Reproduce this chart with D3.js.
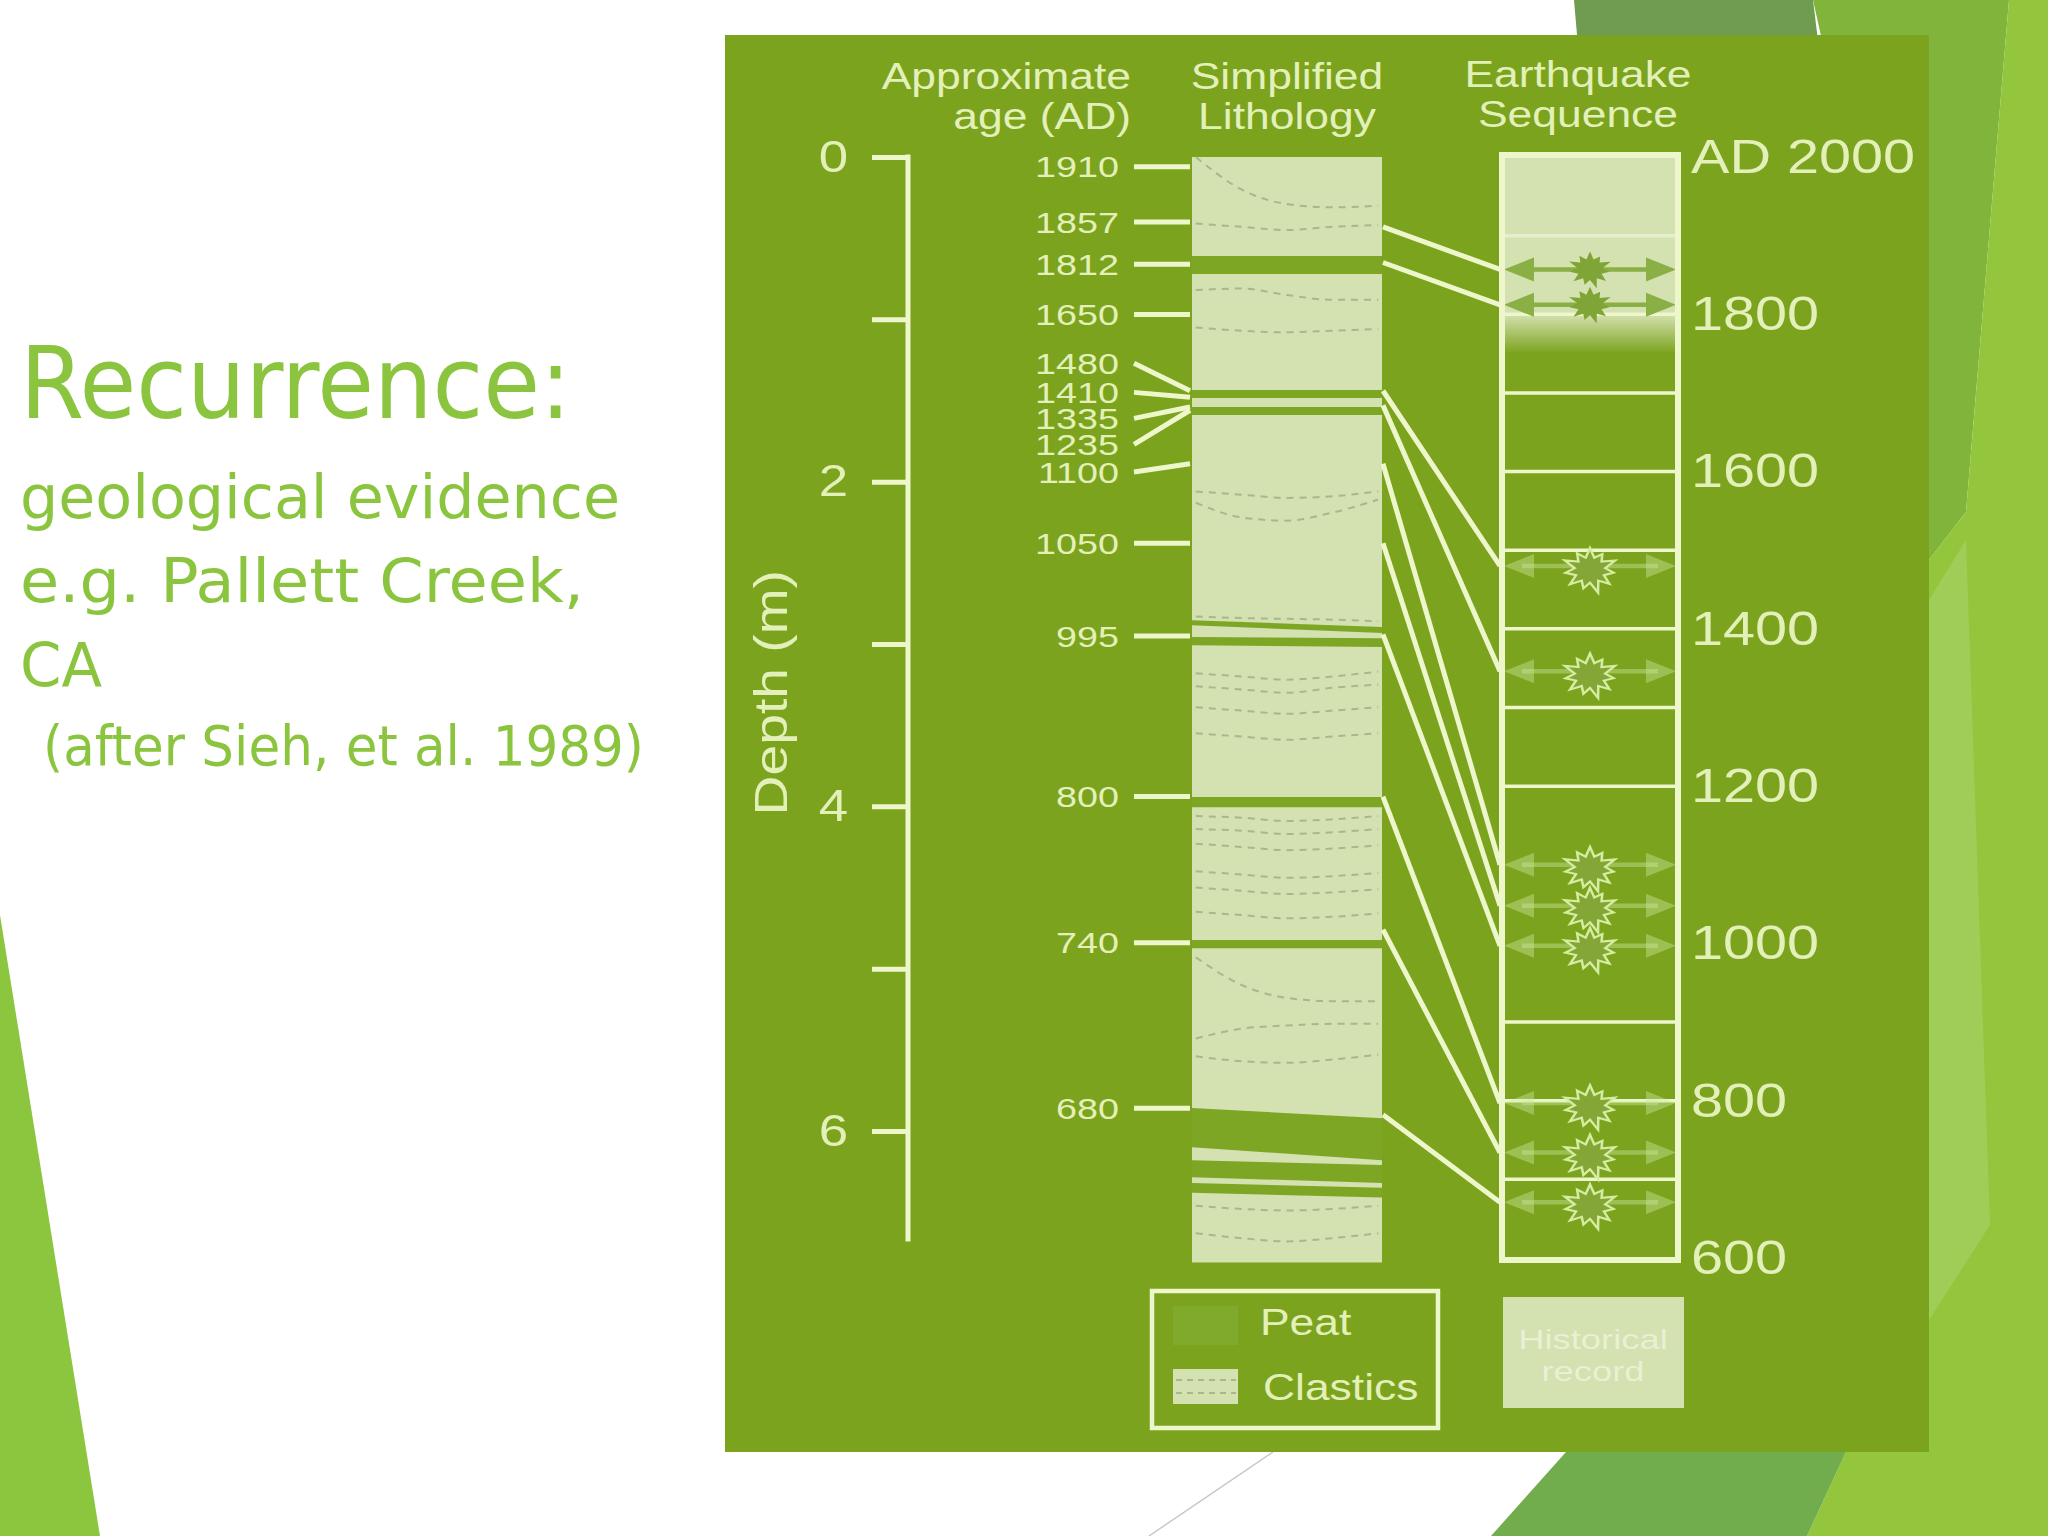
<!DOCTYPE html>
<html>
<head>
<meta charset="utf-8">
<script src="https://cdn.jsdelivr.net/npm/d3@7"></script>
<style>
  body { margin: 0; background: #fff; }
  svg { display: block; }
</style>
</head>
<body>
<svg id="slide" width="2048" height="1536"></svg>
<script>
// ---- data (Pallett Creek, after Sieh et al. 1989) ----
var depthTicks = [0, 1, 2, 3, 4, 5, 6];                 // m
var yearTicks = [2000, 1800, 1600, 1400, 1200, 1000, 800, 600];
var gridYears = [1900, 1800, 1700, 1600, 1500, 1400, 1300, 1200, 900, 800, 700];

// approximate age labels, where the label sits and which horizon it points to (depth, m)
var ageLabels    = [1910, 1857, 1812, 1650, 1480, 1410, 1335, 1235, 1100, 1050, 995, 800, 740, 680];
var labelDepth   = [0.06, 0.40, 0.66, 0.97, 1.27, 1.45, 1.61, 1.77, 1.94, 2.38, 2.95, 3.94, 4.84, 5.86];
var horizonDepth = [0.06, 0.40, 0.66, 0.97, 1.44, 1.48, 1.54, 1.56, 1.89, 2.38, 2.95, 3.94, 4.84, 5.86];

// peat layers: [left, right] depth of top and bottom
var peatTop    = [[0.61, 0.61], [1.436, 1.436], [1.54, 1.54], [2.853, 2.896], [2.957, 2.964],
                  [3.943, 3.943], [4.824, 4.824], [5.859, 5.921], [6.18, 6.21], [6.32, 6.35]];
var peatBottom = [[0.72, 0.72], [1.485, 1.485], [1.59, 1.59], [2.884, 2.933], [3.007, 3.019],
                  [4.005, 4.005], [4.874, 4.874], [6.10, 6.18], [6.285, 6.32], [6.38, 6.41]];
var columnBottom = 6.81;
var axisBottom = 6.68;

// dashed bedding in the clastics, depth at five points across the column
var bedding = [
  [0.00, 0.20, 0.29, 0.31, 0.30],
  [0.41, 0.43, 0.45, 0.43, 0.42],
  [0.82, 0.81, 0.85, 0.88, 0.88],
  [1.05, 1.07, 1.08, 1.07, 1.06],
  [2.06, 2.08, 2.10, 2.09, 2.06],
  [2.13, 2.22, 2.24, 2.19, 2.11],
  [2.83, 2.84, 2.845, 2.85, 2.86],
  [3.18, 3.20, 3.22, 3.20, 3.17],
  [3.26, 3.28, 3.30, 3.27, 3.25],
  [3.39, 3.41, 3.43, 3.41, 3.39],
  [3.55, 3.57, 3.59, 3.57, 3.55],
  [4.06, 4.07, 4.09, 4.08, 4.06],
  [4.14, 4.15, 4.17, 4.16, 4.14],
  [4.23, 4.25, 4.27, 4.26, 4.24],
  [4.40, 4.42, 4.44, 4.43, 4.41],
  [4.50, 4.52, 4.54, 4.53, 4.51],
  [4.65, 4.67, 4.69, 4.68, 4.66],
  [4.93, 5.10, 5.18, 5.20, 5.20],
  [5.43, 5.37, 5.35, 5.34, 5.34],
  [5.54, 5.57, 5.58, 5.56, 5.53],
  [6.46, 6.48, 6.49, 6.48, 6.46],
  [6.63, 6.66, 6.68, 6.66, 6.63]
];

// earthquakes and the horizon each one is correlated with
var eventYears   = [1857, 1812, 1480, 1346, 1100, 1048, 997, 797, 734, 671];
var eventHorizon = [0.43, 0.65, 1.44, 1.53, 1.89, 2.38, 2.94, 3.94, 4.76, 5.90];
var historicalFrom = 1800;

var headers = [["Approximate", "age (AD)"], ["Simplified", "Lithology"], ["Earthquake", "Sequence"]];
var slideLines = ["Recurrence:", "geological evidence", "e.g. Pallett Creek,", "CA", " (after Sieh, et al. 1989)"];

// ---- styles ----
var PANEL = "#7ba31d", PEAT = "#7ea625", PALE = "#d4e1b0", LINE = "#eef7cc", INK = "#e3f0b9";
var FONT = "'Liberation Sans', Arial, Helvetica, sans-serif";
var SLIDE_FONT = "'Trebuchet MS', 'DejaVu Sans Condensed', 'Liberation Sans Narrow', 'Noto Sans', sans-serif";

var svg = d3.select("#slide");

// scales
var depthY = d3.scaleLinear().domain([0, 6]).range([157, 1131]);
var yearY = d3.scaleLinear().domain([2000, 600]).range([157, 1258]);
var litX = d3.scaleLinear().domain([0, 1]).range([1192, 1382]);
var eqX = d3.scaleLinear().domain([0, 1]).range([1502, 1678]);

// stretch text horizontally (the figure on the slide is widened)
function stretch(sel, k) {
  sel.each(function () {
    var kk = +this.getAttribute("data-k") || k;
    var w = this.getComputedTextLength();
    this.setAttribute("textLength", w * kk);
    this.setAttribute("lengthAdjust", "spacingAndGlyphs");
  });
}

// ---- slide theme shapes ----
var deco = [
  { p: [[1574, 0], [1813, 0], [1850, 300], [1600, 300]], c: "#6f9c50" },
  { p: [[1813, 0], [2009, 0], [1966, 512], [1929, 560], [1880, 300]], c: "#80b43a" },
  { p: [[2009, 0], [2048, 0], [2048, 1536], [1807, 1536], [1846, 1452], [1929, 1452], [1929, 560], [1966, 512]], c: "#93c53d" },
  { p: [[1929, 600], [1966, 540], [1990, 1225], [1929, 1320]], c: "#a0cd58" },
  { p: [[1491, 1536], [1566, 1452], [1846, 1452], [1807, 1536]], c: "#72ad4d" },
  { p: [[0, 915], [0, 1536], [100, 1536]], c: "#8cc63f" }
];
svg.selectAll("polygon.deco").data(deco).join("polygon")
  .attr("class", "deco")
  .attr("points", function (d) { return d.p.join(" "); })
  .attr("fill", function (d) { return d.c; });
svg.append("line").attr("x1", 1149).attr("y1", 1536).attr("x2", 1273).attr("y2", 1452)
  .attr("stroke", "#c9c9c9").attr("stroke-width", 1.5);

// ---- slide text ----
var slideStyle = [
  { x: 20, y: 418, size: 100, w: 551 },
  { x: 20, y: 518, size: 60, w: 600 },
  { x: 20, y: 602, size: 60, w: 564 },
  { x: 20, y: 686, size: 60, w: 82 },
  { x: 43, y: 765, size: 55, w: 601 }
];
svg.selectAll("text.slide").data(slideLines).join("text")
  .attr("class", "slide")
  .attr("x", function (d, i) { return slideStyle[i].x; })
  .attr("y", function (d, i) { return slideStyle[i].y; })
  .attr("font-size", function (d, i) { return slideStyle[i].size; })
  .attr("textLength", function (d, i) { return slideStyle[i].w; })
  .attr("lengthAdjust", "spacingAndGlyphs")
  .attr("font-family", SLIDE_FONT)
  .attr("fill", "#8bc53f")
  .text(function (d) { return d.trim(); });

// ---- figure panel ----
svg.append("rect").attr("x", 725).attr("y", 35).attr("width", 1204).attr("height", 1417).attr("fill", PANEL);

var fig = svg.append("g").attr("font-family", FONT);

// column headers
var headX = [1131, litX(0.5), 1578];
var headAnchor = ["end", "middle", "middle"];
headers.forEach(function (h, i) {
  fig.selectAll(null).data(h).join("text")
    .attr("class", "st")
    .attr("x", headX[i])
    .attr("y", function (d, j) { return (i === 2 ? 87 : 89) + j * 40; })
    .attr("text-anchor", headAnchor[i])
    .attr("font-size", 37)
    .attr("fill", INK)
    .text(function (d) { return d; });
});

// depth axis
var depthAxis = d3.axisLeft(depthY).tickValues(depthTicks).tickSize(36).tickPadding(24)
  .tickFormat(function (d) { return d % 2 === 0 ? d : ""; });
var gD = fig.append("g").attr("transform", "translate(908,0)").call(depthAxis);
gD.select(".domain").remove();
gD.selectAll(".tick line").attr("stroke", LINE).attr("stroke-width", 5);
gD.selectAll(".tick text").attr("class", "st").attr("fill", INK)
  .attr("font-size", 44).attr("font-family", FONT);
gD.append("line").attr("x1", 0).attr("x2", 0)
  .attr("y1", depthY(0) - 2.5).attr("y2", depthY(axisBottom))
  .attr("stroke", LINE).attr("stroke-width", 5);

fig.append("text").attr("class", "st")
  .attr("transform", "translate(771," + depthY(3.3) + ") rotate(-90)")
  .attr("text-anchor", "middle").attr("dy", "0.35em")
  .attr("font-size", 46).attr("fill", INK)
  .text("Depth (m)");

// age labels and their ticks
var ages = ageLabels.map(function (a, i) { return { a: a, ld: labelDepth[i], hd: horizonDepth[i] }; });
fig.selectAll("line.age").data(ages).join("line")
  .attr("class", "age")
  .attr("x1", 1134).attr("y1", function (d) { return depthY(d.ld); })
  .attr("x2", litX(0) - 2).attr("y2", function (d) { return depthY(d.hd); })
  .attr("stroke", LINE).attr("stroke-width", 5);
fig.selectAll("text.age").data(ages).join("text")
  .attr("class", "age st")
  .attr("data-k", 1.3)
  .attr("x", 1119).attr("y", function (d) { return depthY(d.ld); })
  .attr("dy", "0.37em").attr("text-anchor", "end")
  .attr("font-size", 29).attr("fill", INK)
  .text(function (d) { return d.a; });

// lithology column
fig.append("rect").attr("x", litX(0)).attr("y", depthY(0))
  .attr("width", litX(1) - litX(0)).attr("height", depthY(columnBottom) - depthY(0))
  .attr("fill", PALE);

var bedLine = d3.line()
  .x(function (d, i) { return litX(0.02 + i * 0.24); })
  .y(function (d) { return depthY(d); })
  .curve(d3.curveMonotoneX);
fig.selectAll("path.bed").data(bedding).join("path")
  .attr("class", "bed")
  .attr("d", bedLine)
  .attr("fill", "none").attr("stroke", "#a8b78e").attr("stroke-width", 2)
  .attr("stroke-dasharray", "7 6");

fig.selectAll("polygon.peat").data(peatTop).join("polygon")
  .attr("class", "peat")
  .attr("points", function (t, i) {
    var b = peatBottom[i];
    return [[litX(0), depthY(t[0])], [litX(1), depthY(t[1])],
            [litX(1), depthY(b[1])], [litX(0), depthY(b[0])]].join(" ");
  })
  .attr("fill", PEAT);

// earthquake sequence box
var defs = svg.append("defs");
var grad = defs.append("linearGradient").attr("id", "fade").attr("x1", 0).attr("y1", 0).attr("x2", 0).attr("y2", 1);
grad.append("stop").attr("offset", 0).attr("stop-color", PALE).attr("stop-opacity", 1);
grad.append("stop").attr("offset", 1).attr("stop-color", PALE).attr("stop-opacity", 0);

fig.append("rect").attr("x", eqX(0)).attr("y", yearY(2000))
  .attr("width", eqX(1) - eqX(0)).attr("height", yearY(historicalFrom) - yearY(2000))
  .attr("fill", PALE);
fig.append("rect").attr("x", eqX(0)).attr("y", yearY(historicalFrom))
  .attr("width", eqX(1) - eqX(0)).attr("height", yearY(1750) - yearY(historicalFrom))
  .attr("fill", "url(#fade)");

fig.selectAll("line.grid").data(gridYears).join("line")
  .attr("class", "grid")
  .attr("x1", eqX(0)).attr("x2", eqX(1))
  .attr("y1", function (d) { return yearY(d); }).attr("y2", function (d) { return yearY(d); })
  .attr("stroke", function (d) { return d > historicalFrom ? "#e6eed0" : LINE; })
  .attr("stroke-width", 3.5);

// correlation lines
var events = eventYears.map(function (y, i) { return { y: y, h: eventHorizon[i], hist: y >= historicalFrom }; });
fig.selectAll("line.corr").data(events).join("line")
  .attr("class", "corr")
  .attr("x1", litX(1) + 1).attr("y1", function (d) { return depthY(d.h); })
  .attr("x2", eqX(0) - 2).attr("y2", function (d) { return yearY(d.y); })
  .attr("stroke", LINE).attr("stroke-width", 5);

// double arrows
function arrowColor(d) { return d.hist ? "#8aaf45" : "rgba(205,232,160,0.42)"; }
var arrows = fig.selectAll("g.arrow").data(events).join("g").attr("class", "arrow");
arrows.append("line")
  .attr("x1", eqX(0) + 20).attr("x2", eqX(1) - 20)
  .attr("y1", function (d) { return yearY(d.y); }).attr("y2", function (d) { return yearY(d.y); })
  .attr("stroke", arrowColor).attr("stroke-width", 4.5);
arrows.append("polygon")
  .attr("points", function (d) {
    var y = yearY(d.y), x = eqX(0) + 2;
    return [[x, y], [x + 30, y - 12], [x + 30, y + 12]].join(" ");
  })
  .attr("fill", arrowColor);
arrows.append("polygon")
  .attr("points", function (d) {
    var y = yearY(d.y), x = eqX(1) - 2;
    return [[x, y], [x - 30, y - 12], [x - 30, y + 12]].join(" ");
  })
  .attr("fill", arrowColor);

// stars
var jag = [1, 0.86, 1.04, 0.9, 0.97, 1.08, 0.88, 1, 0.94, 1.05, 0.9];
function starPath(r) {
  var pts = [];
  for (var i = 0; i < 22; i++) {
    var a = i * Math.PI / 11;
    pts.push([a, i % 2 === 0 ? r * jag[i / 2] : r * 0.58]);
  }
  return d3.lineRadial().curve(d3.curveLinearClosed)(pts);
}
fig.selectAll("path.star").data(events).join("path")
  .attr("class", "star")
  .attr("transform", function (d) {
    return "translate(" + eqX(0.5) + "," + (yearY(d.y) + (d.hist ? 0 : 4)) + ") scale(1.15,0.95)";
  })
  .attr("d", function (d) { return starPath(d.hist ? 19 : 23); })
  .attr("fill", function (d) { return d.hist ? "#7fa536" : "#84a637"; })
  .attr("stroke", function (d) { return d.hist ? "none" : "#d6eca0"; })
  .attr("stroke-width", 2.2);

// box outline
fig.append("rect").attr("x", eqX(0)).attr("y", 155)
  .attr("width", eqX(1) - eqX(0)).attr("height", 1105)
  .attr("fill", "none").attr("stroke", LINE).attr("stroke-width", 6);

// right year axis
var yearAxis = d3.axisRight(yearY).tickValues(yearTicks).tickSize(0).tickPadding(13)
  .tickFormat(function (d) { return d === 2000 ? "AD 2000" : d; });
var gY = fig.append("g").attr("transform", "translate(" + eqX(1) + ",0)").call(yearAxis);
gY.select(".domain").remove();
gY.selectAll(".tick text").attr("class", "st").attr("fill", INK)
  .attr("font-size", 48).attr("font-family", FONT);

// legend
fig.append("rect").attr("x", 1152).attr("y", 1291).attr("width", 286).attr("height", 137)
  .attr("fill", "none").attr("stroke", LINE).attr("stroke-width", 4.5);
fig.append("rect").attr("x", 1173).attr("y", 1306).attr("width", 65).attr("height", 39).attr("fill", "#80aa2c");
fig.append("rect").attr("x", 1173).attr("y", 1369).attr("width", 65).attr("height", 35).attr("fill", PALE);
[1380, 1393].forEach(function (y) {
  fig.append("line").attr("x1", 1176).attr("x2", 1236).attr("y1", y).attr("y2", y)
    .attr("stroke", "#a8b78e").attr("stroke-width", 1.8).attr("stroke-dasharray", "6 5");
});
fig.append("text").attr("class", "st").attr("x", 1260).attr("y", 1335)
  .attr("font-size", 37).attr("fill", INK).text("Peat");
fig.append("text").attr("class", "st").attr("x", 1263).attr("y", 1400)
  .attr("font-size", 37).attr("fill", INK).text("Clastics");

fig.append("rect").attr("x", 1503).attr("y", 1297).attr("width", 181).attr("height", 111).attr("fill", PALE);
fig.selectAll("text.hist").data(["Historical", "record"]).join("text")
  .attr("class", "hist st")
  .attr("data-k", 1.3)
  .attr("x", 1593).attr("y", function (d, i) { return 1349 + i * 32; })
  .attr("text-anchor", "middle").attr("font-size", 28).attr("fill", "#e9f0d4")
  .text(function (d) { return d; });

stretch(svg.selectAll("text.st"), 1.2);
</script>
</body>
</html>
